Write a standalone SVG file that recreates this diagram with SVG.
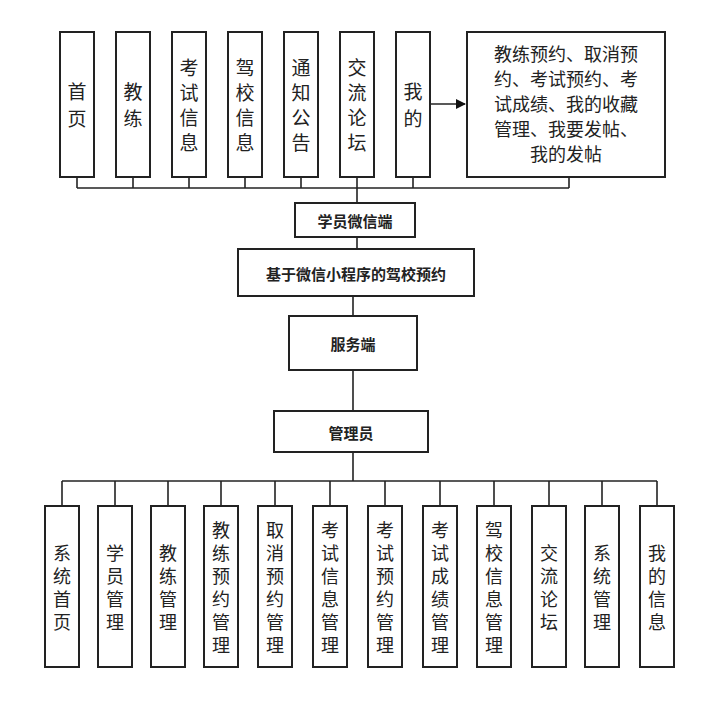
<svg xmlns="http://www.w3.org/2000/svg" width="714" height="702" viewBox="0 0 714 702">
<style>
rect{fill:#fff;stroke:#222;stroke-width:2}
.c line,.c path{stroke:#222;stroke-width:1.6;fill:none}
text{font-family:"Noto Sans CJK SC","Liberation Sans",sans-serif;fill:#222;text-anchor:middle;dominant-baseline:central}
.v{font-size:19px}
.w{font-size:18px}
.b{font-size:15px;font-weight:bold}
.m{font-size:18px}
</style>
<defs><marker id="ar" markerWidth="10" markerHeight="10" refX="9" refY="5" orient="auto" markerUnits="userSpaceOnUse"><path d="M0,0 L10,5 L0,10z" fill="#111"/></marker></defs>
<g class="c">
<line x1="77" y1="188" x2="569" y2="188"/>
<line x1="77" y1="177" x2="77" y2="188"/><line x1="133" y1="177" x2="133" y2="188"/><line x1="189" y1="177" x2="189" y2="188"/><line x1="245" y1="177" x2="245" y2="188"/><line x1="301" y1="177" x2="301" y2="188"/><line x1="357" y1="177" x2="357" y2="188"/><line x1="413" y1="177" x2="413" y2="188"/><line x1="569" y1="177" x2="569" y2="188"/>
<line x1="357" y1="188" x2="357" y2="203"/>
<line x1="357" y1="237" x2="357" y2="249"/>
<line x1="353" y1="296" x2="353" y2="316"/>
<line x1="353" y1="370" x2="353" y2="411"/>
<line x1="353" y1="452" x2="353" y2="481"/>
<line x1="430" y1="104" x2="465" y2="104" marker-end="url(#ar)"/>
<line x1="62" y1="481" x2="657" y2="481"/>
<line x1="62" y1="481" x2="62" y2="506"/><line x1="115" y1="481" x2="115" y2="506"/><line x1="168" y1="481" x2="168" y2="506"/><line x1="221" y1="481" x2="221" y2="506"/><line x1="275" y1="481" x2="275" y2="506"/><line x1="330" y1="481" x2="330" y2="506"/><line x1="385" y1="481" x2="385" y2="506"/><line x1="440" y1="481" x2="440" y2="506"/><line x1="494" y1="481" x2="494" y2="506"/><line x1="549" y1="481" x2="549" y2="506"/><line x1="602" y1="481" x2="602" y2="506"/><line x1="657" y1="481" x2="657" y2="506"/>
</g>
<g id="t1"><rect x="60" y="32" width="34" height="145"/><text class="v"><tspan x="77" y="90">首</tspan><tspan x="77" y="117">页</tspan></text></g>
<g id="t2"><rect x="116" y="32" width="34" height="145"/><text class="v"><tspan x="133" y="90">教</tspan><tspan x="133" y="117">练</tspan></text></g>
<g id="t3"><rect x="172" y="32" width="34" height="145"/><text class="v"><tspan x="189" y="66">考</tspan><tspan x="189" y="91">试</tspan><tspan x="189" y="116">信</tspan><tspan x="189" y="141">息</tspan></text></g>
<g id="t4"><rect x="228" y="32" width="34" height="145"/><text class="v"><tspan x="245" y="66">驾</tspan><tspan x="245" y="91">校</tspan><tspan x="245" y="116">信</tspan><tspan x="245" y="141">息</tspan></text></g>
<g id="t5"><rect x="284" y="32" width="34" height="145"/><text class="v"><tspan x="301" y="66">通</tspan><tspan x="301" y="91">知</tspan><tspan x="301" y="116">公</tspan><tspan x="301" y="141">告</tspan></text></g>
<g id="t6"><rect x="340" y="32" width="34" height="145"/><text class="v"><tspan x="357" y="66">交</tspan><tspan x="357" y="91">流</tspan><tspan x="357" y="116">论</tspan><tspan x="357" y="141">坛</tspan></text></g>
<g id="t7"><rect x="396" y="32" width="34" height="145"/><text class="v"><tspan x="413" y="90">我</tspan><tspan x="413" y="117">的</tspan></text></g>
<g id="t8"><rect x="467" y="32" width="198" height="145"/><text class="m"><tspan x="566" y="53">教练预约、取消预</tspan><tspan x="566" y="78">约、考试预约、考</tspan><tspan x="566" y="103">试成绩、我的收藏</tspan><tspan x="566" y="128">管理、我要发帖、</tspan><tspan x="566" y="153">我的发帖</tspan></text></g>
<g id="stu"><rect x="295" y="203" width="120" height="34"/><text class="b" x="355" y="220">学员微信端</text></g>
<g id="sys"><rect x="238" y="249" width="236" height="47"/><text class="b" x="356" y="273">基于微信小程序的驾校预约</text></g>
<g id="srv"><rect x="289" y="316" width="128" height="54"/><text class="b" x="353" y="343">服务端</text></g>
<g id="adm"><rect x="274" y="411" width="154" height="41"/><text class="b" x="351" y="432">管理员</text></g>
<g id="a1"><rect x="45" y="506" width="34" height="161"/><text class="w"><tspan x="62" y="552">系</tspan><tspan x="62" y="575">统</tspan><tspan x="62" y="598">首</tspan><tspan x="62" y="621">页</tspan></text></g>
<g id="a2"><rect x="98" y="506" width="34" height="161"/><text class="w"><tspan x="115" y="552">学</tspan><tspan x="115" y="575">员</tspan><tspan x="115" y="598">管</tspan><tspan x="115" y="621">理</tspan></text></g>
<g id="a3"><rect x="151" y="506" width="34" height="161"/><text class="w"><tspan x="168" y="552">教</tspan><tspan x="168" y="575">练</tspan><tspan x="168" y="598">管</tspan><tspan x="168" y="621">理</tspan></text></g>
<g id="a4"><rect x="204" y="506" width="34" height="161"/><text class="w"><tspan x="221" y="529">教</tspan><tspan x="221" y="552">练</tspan><tspan x="221" y="575">预</tspan><tspan x="221" y="598">约</tspan><tspan x="221" y="621">管</tspan><tspan x="221" y="644">理</tspan></text></g>
<g id="a5"><rect x="258" y="506" width="34" height="161"/><text class="w"><tspan x="275" y="529">取</tspan><tspan x="275" y="552">消</tspan><tspan x="275" y="575">预</tspan><tspan x="275" y="598">约</tspan><tspan x="275" y="621">管</tspan><tspan x="275" y="644">理</tspan></text></g>
<g id="a6"><rect x="313" y="506" width="34" height="161"/><text class="w"><tspan x="330" y="529">考</tspan><tspan x="330" y="552">试</tspan><tspan x="330" y="575">信</tspan><tspan x="330" y="598">息</tspan><tspan x="330" y="621">管</tspan><tspan x="330" y="644">理</tspan></text></g>
<g id="a7"><rect x="368" y="506" width="34" height="161"/><text class="w"><tspan x="385" y="529">考</tspan><tspan x="385" y="552">试</tspan><tspan x="385" y="575">预</tspan><tspan x="385" y="598">约</tspan><tspan x="385" y="621">管</tspan><tspan x="385" y="644">理</tspan></text></g>
<g id="a8"><rect x="423" y="506" width="34" height="161"/><text class="w"><tspan x="440" y="529">考</tspan><tspan x="440" y="552">试</tspan><tspan x="440" y="575">成</tspan><tspan x="440" y="598">绩</tspan><tspan x="440" y="621">管</tspan><tspan x="440" y="644">理</tspan></text></g>
<g id="a9"><rect x="477" y="506" width="34" height="161"/><text class="w"><tspan x="494" y="529">驾</tspan><tspan x="494" y="552">校</tspan><tspan x="494" y="575">信</tspan><tspan x="494" y="598">息</tspan><tspan x="494" y="621">管</tspan><tspan x="494" y="644">理</tspan></text></g>
<g id="a10"><rect x="532" y="506" width="34" height="161"/><text class="w"><tspan x="549" y="552">交</tspan><tspan x="549" y="575">流</tspan><tspan x="549" y="598">论</tspan><tspan x="549" y="621">坛</tspan></text></g>
<g id="a11"><rect x="585" y="506" width="34" height="161"/><text class="w"><tspan x="602" y="552">系</tspan><tspan x="602" y="575">统</tspan><tspan x="602" y="598">管</tspan><tspan x="602" y="621">理</tspan></text></g>
<g id="a12"><rect x="640" y="506" width="34" height="161"/><text class="w"><tspan x="657" y="552">我</tspan><tspan x="657" y="575">的</tspan><tspan x="657" y="598">信</tspan><tspan x="657" y="621">息</tspan></text></g>
</svg>
